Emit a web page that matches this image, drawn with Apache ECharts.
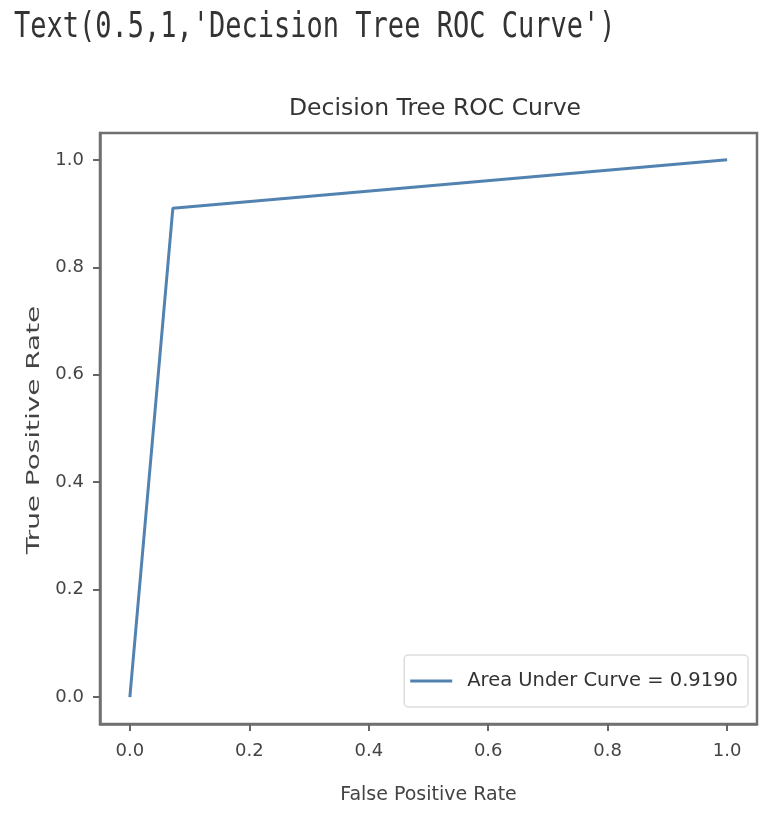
<!DOCTYPE html>
<html>
<head>
<meta charset="utf-8">
<script src="https://cdn.jsdelivr.net/npm/echarts@6/dist/echarts.min.js"></script>
<style>
html,body{margin:0;padding:0;background:#fff;}
#chart{width:775px;height:821px;}
</style>
</head>
<body>
<div id="chart"></div>
<script>
// ROC curve points
const fpr = [0, 0.072, 1];
const tpr = [0, 0.91, 1];
// tick labels
const xTicks = [0, 0.2, 0.4, 0.6, 0.8, 1.0];
const yTicks = [0, 0.2, 0.4, 0.6, 0.8, 1.0];
const seriesName = 'Area Under Curve = 0.9190';
const chartTitle = 'Decision Tree ROC Curve';
const outputText = "Text(0.5,1,'Decision Tree ROC Curve')";
const xName = 'False Positive Rate';
const yName = 'True Positive Rate';

const points = fpr.map((x, i) => [x, tpr[i]]);
const chart = echarts.init(document.getElementById('chart'));
const labelColor = '#444';
const fontFam = 'DejaVu Sans';
const lineColor = '#5283b0';
const frameColor = '#707070';
chart.setOption({
  backgroundColor: '#fff',
  animation: false,
  graphic: [{
    type: 'text', left: 14, top: 10, scaleY: 1.3,
    style: { text: outputText, font: '27px "DejaVu Sans Mono"', fill: '#333' }
  }, {
    type: 'text', x: 34, y: 430, rotation: Math.PI / 2, scaleX: 1.55,
    style: { text: yName, font: '18px "DejaVu Sans"', fill: labelColor,
      align: 'center', verticalAlign: 'middle' }
  }],
  title: {
    text: chartTitle, left: 430, top: 92, textAlign: 'center',
    textStyle: { fontFamily: fontFam, fontSize: 23.5, fontWeight: 'normal', color: '#333' }
  },
  legend: {
    right: 27, top: 655, orient: 'vertical',
    data: [seriesName],
    icon: 'rect',
    itemWidth: 42, itemHeight: 3, itemGap: 0,
    padding: [16, 10, 16, 6],
    borderColor: '#ddd', borderWidth: 1.5, borderRadius: 4,
    backgroundColor: '#fff',
    textStyle: { fontFamily: fontFam, fontSize: 19.5, color: '#333', padding: [0, 0, 0, 10] }
  },
  grid: {
    left: 100, right: 18, top: 133, bottom: 97,
    show: true, borderColor: frameColor, borderWidth: 2.5
  },
  xAxis: {
    type: 'value', min: -0.05, max: 1.05,
    name: xName, nameLocation: 'middle', nameGap: 62,
    nameTextStyle: { fontFamily: fontFam, fontSize: 19, color: labelColor },
    axisLine: { show: true, onZero: false, lineStyle: { color: frameColor, width: 2.5 } },
    splitLine: { show: false },
    axisTick: { show: true, customValues: xTicks, length: 7, lineStyle: { color: '#666', width: 2 } },
    axisLabel: { customValues: xTicks, formatter: v => v.toFixed(1), margin: 18,
      fontFamily: fontFam, fontSize: 18, color: labelColor }
  },
  yAxis: {
    type: 'value', min: -0.05, max: 1.05,
    axisLine: { show: true, onZero: false, lineStyle: { color: frameColor, width: 2.5 } },
    splitLine: { show: false },
    axisTick: { show: true, customValues: yTicks, length: 7, lineStyle: { color: '#666', width: 2 } },
    axisLabel: { customValues: yTicks, formatter: v => v.toFixed(1), margin: 16,
      fontFamily: fontFam, fontSize: 18, color: labelColor }
  },
  series: [{
    name: seriesName, type: 'line', data: points,
    symbol: 'none', lineStyle: { color: lineColor, width: 3 },
    itemStyle: { color: lineColor }
  }]
});
</script>
</body>
</html>
